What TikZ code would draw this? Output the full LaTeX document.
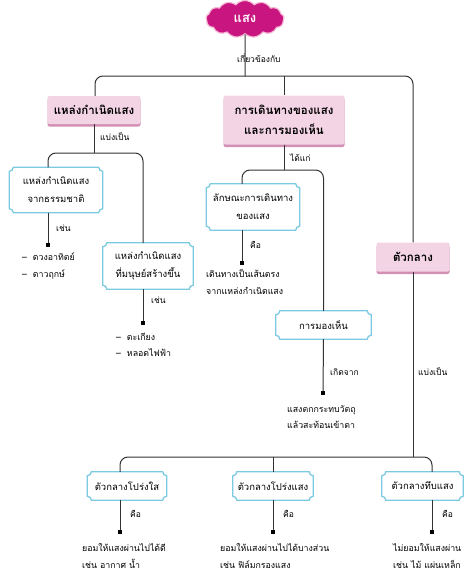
\documentclass[tikz,border=0pt]{standalone}
\usepackage{fontspec}
\setmainfont{Loma}[Script=Thai]
\usetikzlibrary{shapes.symbols,shadows}

\definecolor{cloudpink}{HTML}{C9157F}
\definecolor{cloudrim}{HTML}{F4B8D6}
\definecolor{headfill}{HTML}{F2D4E4}
\definecolor{headrim}{HTML}{D48FB5}
\definecolor{boxblue}{HTML}{7CCAE2}
\definecolor{linegray}{HTML}{333333}

% concave-corner outline round a named node
\newcommand{\notchbox}[1]{%
  \draw[boxblue, line width=1.3pt]
    ([xshift=4pt]#1.north west) -- ([xshift=-4pt]#1.north east)
    arc[start angle=180, end angle=270, radius=4pt]
    -- ([yshift=4pt]#1.south east)
    arc[start angle=90, end angle=180, radius=4pt]
    -- ([xshift=4pt]#1.south west)
    arc[start angle=0, end angle=90, radius=4pt]
    -- ([yshift=-4pt]#1.north west)
    arc[start angle=270, end angle=360, radius=4pt] -- cycle;}

\begin{document}
\begin{tikzpicture}[x=1pt, y=-1pt]
  % Styles
  \tikzset{
    topcloud/.style={cloud, cloud puffs=13, cloud puff arc=100, aspect=2.4,
      fill=cloudpink, draw=cloudrim, line width=1.2pt, inner sep=0pt,
      minimum width=78pt, minimum height=37pt, text=white,
      font=\bfseries\fontsize{13}{14}\selectfont},
    headbox/.style={rectangle, rounded corners=2pt, fill=headfill, align=center,
      general shadow={fill=headrim, shadow yshift=-2.5pt, rounded corners=3pt},
      font=\bfseries\fontsize{11.5}{20}\selectfont},
    subbox/.style={rectangle, fill=white, align=center,
      font=\fontsize{9.5}{18}\selectfont},
    conn/.style={draw=linegray, line width=1pt},
    endmark/.style={rectangle, fill=black, inner sep=0pt, minimum size=3.6pt},
    rel/.style={anchor=west, inner sep=0pt, font=\fontsize{8.5}{10}\selectfont},
    item/.style={anchor=west, inner sep=0pt, align=left,
      font=\fontsize{8.8}{16.5}\selectfont}
  }
  \useasboundingbox (0,0) rectangle (474,573);

  % Nodes
  \node[topcloud] (light) at (245,19) {แสง};

  \node[headbox, minimum width=93pt, minimum height=28pt] (src) at (94,110) {แหล่งกำเนิดแสง};
  \node[headbox, minimum width=121pt, minimum height=49pt] (trav) at (284,120) {การเดินทางของแสง\\และการมองเห็น};
  \node[headbox, minimum width=73pt, minimum height=29pt] (med) at (413,257) {ตัวกลาง};

  \node[subbox, minimum width=93pt, minimum height=45pt] (nat) at (56,190) {แหล่งกำเนิดแสง\\จากธรรมชาติ};
  \node[subbox, minimum width=90pt, minimum height=46pt] (man) at (148,266) {แหล่งกำเนิดแสง\\ที่มนุษย์สร้างขึ้น};
  \node[subbox, minimum width=93pt, minimum height=46pt] (path) at (253,207) {ลักษณะการเดินทาง\\ของแสง};
  \node[subbox, minimum width=95pt, minimum height=28pt] (see) at (323.5,325) {การมองเห็น};
  \node[subbox, minimum width=79pt, minimum height=28pt] (clear) at (127,486) {ตัวกลางโปร่งใส};
  \node[subbox, minimum width=80pt, minimum height=28pt] (transl) at (273,486) {ตัวกลางโปร่งแสง};
  \node[subbox, minimum width=81pt, minimum height=28pt] (opaque) at (422.5,486) {ตัวกลางทึบแสง};
  \foreach \b in {nat,man,path,see,clear,transl,opaque} {\notchbox{\b}}

  \node[endmark] (mnat) at (48,245) {};
  \node[endmark] (mman) at (143,323) {};
  \node[endmark] (mpath) at (242,263) {};
  \node[endmark] (msee) at (323,393) {};
  \node[endmark] (mclear) at (120,532) {};
  \node[endmark] (mtransl) at (273,532) {};
  \node[endmark] (mopaque) at (432,532) {};

  \coordinate (b0) at (245,76);
  \coordinate (b1) at (94,153);
  \coordinate (b2) at (284,170);
  \coordinate (b3) at (413,457);

  % Connectors
  \draw[conn] (light) -- (b0);
  \draw[conn, rounded corners=8pt] ([xshift=1pt]src.north) |- (b0) -| (med.north);
  \draw[conn] (trav.north) -- (trav.north |- b0);

  \draw[conn] (src.south) -- (b1);
  \draw[conn, rounded corners=8pt] ([xshift=-8pt]nat.north) |- (b1) -| ([xshift=-5pt]man.north);
  \draw[conn] ([xshift=-8pt]nat.south) -- (mnat);
  \draw[conn] ([xshift=-5pt]man.south) -- (mman);

  \draw[conn] (trav.south) -- (b2);
  \draw[conn, rounded corners=8pt] ([xshift=-11pt]path.north) |- (b2) -| (see.north);
  \draw[conn] ([xshift=-11pt]path.south) -- (mpath);
  \draw[conn] (see.south) -- (msee);

  \draw[conn] (med.south) -- (b3);
  \draw[conn, rounded corners=8pt] ([xshift=-7pt]clear.north) |- (b3) -| ([xshift=9.5pt]opaque.north);
  \draw[conn] (transl.north) -- (transl.north |- b3);
  \draw[conn] ([xshift=-7pt]clear.south) -- (mclear);
  \draw[conn] (transl.south) -- (mtransl);
  \draw[conn] ([xshift=9.5pt]opaque.south) -- (mopaque);

  % Labels
  \node[rel] (lrel) at (237,58) {เกี่ยวข้องกับ};
  \node[rel] (lsplit1) at (100,137) {แบ่งเป็น};
  \node[rel] (lgot) at (290,158) {ได้แก่};
  \node[rel] (lsplit2) at (418,372) {แบ่งเป็น};
  \node[rel] (leg1) at (56,228) {เช่น};
  \node[rel] (leg2) at (151,300) {เช่น};
  \node[rel] (lis1) at (250,245) {คือ};
  \node[rel] (lfrom) at (330,372) {เกิดจาก};
  \node[rel] (lis2) at (130,514) {คือ};
  \node[rel] (lis3) at (283,514) {คือ};
  \node[rel] (lis4) at (442,514) {คือ};

  % Texts
  \node[item] (tnat) at (22,266) {–\ \ ดวงอาทิตย์\\–\ \ ดาวฤกษ์};
  \node[item] (tman) at (116,345) {–\ \ ตะเกียง\\–\ \ หลอดไฟฟ้า};
  \node[item] (tpath) at (206,282) {เดินทางเป็นเส้นตรง\\จากแหล่งกำเนิดแสง};
  \node[item] (tsee) at (287,417) {แสงตกกระทบวัตถุ\\แล้วสะท้อนเข้าตา};
  \node[item] (tclear) at (82,556) {ยอมให้แสงผ่านไปได้ดี\\เช่น อากาศ น้ำ};
  \node[item] (ttransl) at (220,556) {ยอมให้แสงผ่านไปได้บางส่วน\\เช่น ฟิล์มกรองแสง};
  \node[item] (topaque) at (393,556) {ไม่ยอมให้แสงผ่าน\\เช่น ไม้ แผ่นเหล็ก};
\end{tikzpicture}
\end{document}
